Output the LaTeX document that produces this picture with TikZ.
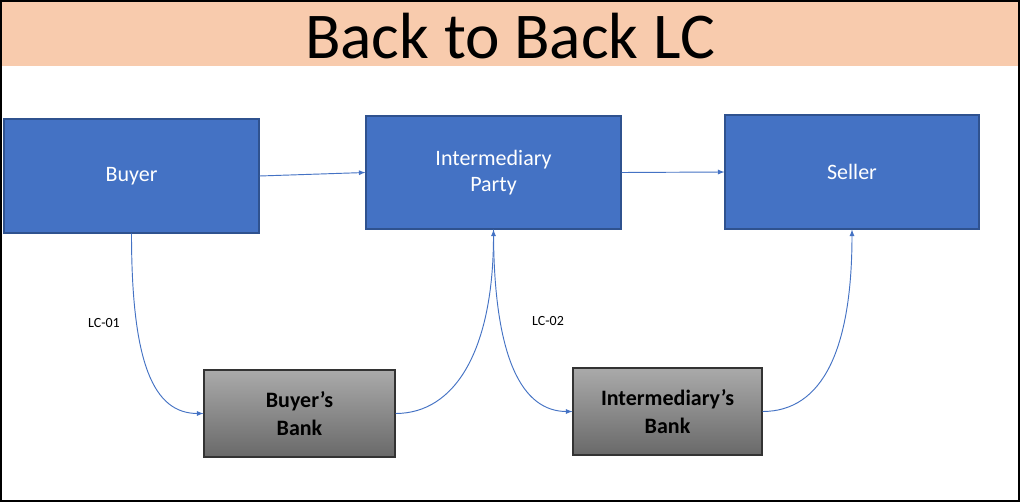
\documentclass[tikz,border=0pt]{standalone}
\usepackage{fontspec}
\setmainfont{Carlito}
\definecolor{boxblue}{RGB}{68,114,196}
\definecolor{boxedge}{RGB}{47,82,143}
\definecolor{peach}{RGB}{248,203,173}
\definecolor{gtop}{RGB}{170,170,170}
\definecolor{gbot}{RGB}{105,105,105}
\begin{document}
\begin{tikzpicture}[x=0.75pt,y=-0.75pt,
  blue box/.style={fill=boxblue,draw=boxedge,line width=0.8pt,text=white,font=\fontsize{16.5}{20}\selectfont,align=center,inner sep=0pt},
  gray box/.style={draw=black!80,line width=0.8pt,top color=gtop,bottom color=gbot,font=\bfseries\fontsize{16.5}{21}\selectfont,align=center,inner sep=0pt},
  conn/.style={draw=boxblue,line width=0.7pt,-latex},
  lbl/.style={font=\fontsize{10.5}{12}\selectfont}]
\useasboundingbox (0,0) rectangle (1020,502);
\fill[white] (0,0) rectangle (1020,502);
\fill[peach] (1,1) rectangle (1019,66);
\node[font=\fontsize{49}{55}\selectfont] (title) at (510,36) {Back to Back LC};
\node[blue box,minimum width=255*0.75pt,minimum height=114*0.75pt] (buyer) at (131.5,176) {Buyer};
\node[blue box,minimum width=255*0.75pt,minimum height=113*0.75pt] (inter) at (493.5,172.5) {Intermediary\\Party};
\node[blue box,minimum width=254*0.75pt,minimum height=114*0.75pt] (seller) at (852,172) {Seller};
\node[gray box,minimum width=191*0.75pt,minimum height=87*0.75pt] (bbank) at (299.5,413.5) {Buyer's\\Bank};
\node[gray box,minimum width=189*0.75pt,minimum height=87*0.75pt] (ibank) at (667.5,411.5) {Intermediary's\\Bank};
\draw[conn] (buyer.east) -- (inter.west);
\draw[conn] (inter.east) -- (seller.west);
\draw[conn] (buyer.south) .. controls +(0,130) and +(-50,0) .. (bbank.west);
\draw[conn] (bbank.east) .. controls +(60,0) and +(0,120) .. (inter.south);
\draw[conn] (inter.south) .. controls +(0,130) and +(-50,0) .. (ibank.west);
\draw[conn] (ibank.east) .. controls +(60,0) and +(0,120) .. (seller.south);
\node[lbl] (lc1) at (104,323) {LC-01};
\node[lbl] (lc2) at (548,321) {LC-02};
\draw[black,line width=1.2pt] (0.8,0.8) rectangle (1019.2,501.2);
\end{tikzpicture}
\end{document}
